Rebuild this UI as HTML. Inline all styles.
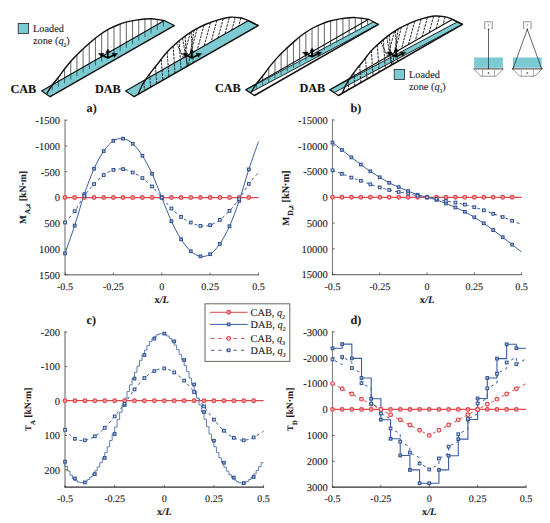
<!DOCTYPE html>
<html><head><meta charset="utf-8"><style>
html,body{margin:0;padding:0;background:#fff;}
body{width:550px;height:523px;overflow:hidden;font-family:"Liberation Serif",serif;}
svg{display:block;}
svg text{text-rendering:geometricPrecision;stroke:#1a1a1a;stroke-width:0.1px;}
</style></head><body>
<svg width="550" height="523" viewBox="0 0 550 523">
<rect width="550" height="523" fill="#fff"/>
<polygon points="41.6,91 164.4,20.5 174.2,25.6 50.2,96.7" fill="#7ccbd3" stroke="none" stroke-width="0" stroke-linejoin="round" />
<line x1="52.2" y1="85.04" x2="52.2" y2="90.23" stroke="#356a70" stroke-width="1.05" />
<line x1="58.38" y1="77.32" x2="58.38" y2="81.37" stroke="#727272" stroke-width="1.1" />
<line x1="58.38" y1="81.37" x2="58.38" y2="86.69" stroke="#356a70" stroke-width="1.05" />
<line x1="64.56" y1="68.98" x2="64.56" y2="77.82" stroke="#727272" stroke-width="1.1" />
<line x1="64.56" y1="77.82" x2="64.56" y2="83.14" stroke="#356a70" stroke-width="1.05" />
<line x1="70.74" y1="61.44" x2="70.74" y2="74.27" stroke="#727272" stroke-width="1.1" />
<line x1="70.74" y1="74.27" x2="70.74" y2="79.6" stroke="#356a70" stroke-width="1.05" />
<line x1="76.92" y1="54.88" x2="76.92" y2="70.72" stroke="#727272" stroke-width="1.1" />
<line x1="76.92" y1="70.72" x2="76.92" y2="76.05" stroke="#356a70" stroke-width="1.05" />
<line x1="83.1" y1="48.89" x2="83.1" y2="67.17" stroke="#727272" stroke-width="1.1" />
<line x1="83.1" y1="67.17" x2="83.1" y2="72.51" stroke="#356a70" stroke-width="1.05" />
<line x1="89.28" y1="43.35" x2="89.28" y2="63.63" stroke="#727272" stroke-width="1.1" />
<line x1="89.28" y1="63.63" x2="89.28" y2="68.96" stroke="#356a70" stroke-width="1.05" />
<line x1="95.46" y1="38.12" x2="95.46" y2="60.08" stroke="#727272" stroke-width="1.1" />
<line x1="95.46" y1="60.08" x2="95.46" y2="65.41" stroke="#356a70" stroke-width="1.05" />
<line x1="101.64" y1="33.49" x2="101.64" y2="56.53" stroke="#727272" stroke-width="1.1" />
<line x1="101.64" y1="56.53" x2="101.64" y2="61.87" stroke="#356a70" stroke-width="1.05" />
<line x1="107.82" y1="29.63" x2="107.82" y2="52.98" stroke="#727272" stroke-width="1.1" />
<line x1="107.82" y1="52.98" x2="107.82" y2="58.32" stroke="#356a70" stroke-width="1.05" />
<line x1="114" y1="26.55" x2="114" y2="49.43" stroke="#727272" stroke-width="1.1" />
<line x1="114" y1="49.43" x2="114" y2="54.78" stroke="#356a70" stroke-width="1.05" />
<line x1="120.18" y1="24.04" x2="120.18" y2="45.89" stroke="#727272" stroke-width="1.1" />
<line x1="120.18" y1="45.89" x2="120.18" y2="51.23" stroke="#356a70" stroke-width="1.05" />
<line x1="126.36" y1="22.02" x2="126.36" y2="42.34" stroke="#727272" stroke-width="1.1" />
<line x1="126.36" y1="42.34" x2="126.36" y2="47.68" stroke="#356a70" stroke-width="1.05" />
<line x1="132.54" y1="20.66" x2="132.54" y2="38.79" stroke="#727272" stroke-width="1.1" />
<line x1="132.54" y1="38.79" x2="132.54" y2="44.14" stroke="#356a70" stroke-width="1.05" />
<line x1="138.72" y1="19.69" x2="138.72" y2="35.24" stroke="#727272" stroke-width="1.1" />
<line x1="138.72" y1="35.24" x2="138.72" y2="40.59" stroke="#356a70" stroke-width="1.05" />
<line x1="144.9" y1="19.01" x2="144.9" y2="31.7" stroke="#727272" stroke-width="1.1" />
<line x1="144.9" y1="31.7" x2="144.9" y2="37.05" stroke="#356a70" stroke-width="1.05" />
<line x1="151.08" y1="18.78" x2="151.08" y2="28.15" stroke="#727272" stroke-width="1.1" />
<line x1="151.08" y1="28.15" x2="151.08" y2="33.5" stroke="#356a70" stroke-width="1.05" />
<line x1="157.26" y1="19.47" x2="157.26" y2="24.6" stroke="#727272" stroke-width="1.1" />
<line x1="157.26" y1="24.6" x2="157.26" y2="29.96" stroke="#356a70" stroke-width="1.05" />
<line x1="163.44" y1="20.44" x2="163.44" y2="21.05" stroke="#727272" stroke-width="1.1" />
<line x1="163.44" y1="21.05" x2="163.44" y2="26.41" stroke="#356a70" stroke-width="1.05" />
<path d="M50.2,96.7 L41.6,91 L164.4,20.5 L174.2,25.6" fill="none" stroke="#111" stroke-width="1.15" stroke-linejoin="round"/>
<path d="M174.2,25.6 L50.2,96.7" fill="none" stroke="#111" stroke-width="1.5" stroke-linecap="round"/>
<path d="M46.9,93.6 C47.67,92.33 49.47,88.87 51.5,86 C53.53,83.13 56.9,79.27 59.1,76.4 C61.3,73.53 62.52,71.57 64.7,68.8 C66.88,66.03 69.42,62.85 72.2,59.8 C74.98,56.75 78.35,53.42 81.4,50.5 C84.45,47.58 87.48,44.88 90.5,42.3 C93.52,39.72 96.48,37.18 99.5,35 C102.52,32.82 105.57,30.87 108.6,29.2 C111.63,27.53 114.67,26.22 117.7,25 C120.73,23.78 123.77,22.72 126.8,21.9 C129.83,21.08 132.87,20.58 135.9,20.1 C138.93,19.62 142.4,19.22 145,19 C147.6,18.78 149.3,18.7 151.5,18.8 C153.7,18.9 156.05,19.3 158.2,19.6 C160.35,19.9 163.37,20.43 164.4,20.6" fill="none" stroke="#111" stroke-width="1.4" stroke-linejoin="round"/>
<g stroke="#000" stroke-width="1.6" fill="#000" stroke-linejoin="round" stroke-linecap="round">
<path d="M101.6,54.73 L107.8,57.93 L114.4,54.73 M107.8,57.93 L107.8,52.33" fill="none"/>
<path d="M107.8,49.33 l-1.9,3.2 l3.8,0 z" stroke-width="0.5"/>
<path d="M98.8,53.53 l5.0,-0.3 l-2.1,3.9 z" stroke-width="0.5"/>
<path d="M117.2,53.53 l-5.0,-0.3 l2.1,3.9 z" stroke-width="0.5"/>
</g>
<text x="99.6" y="51.73" font-family="'Liberation Serif', serif" font-size="3.8" font-style="italic" fill="#999" style="stroke:none">y</text>
<text x="110.2" y="47.73" font-family="'Liberation Serif', serif" font-size="3.8" font-style="italic" fill="#999" style="stroke:none">z</text>
<text x="117" y="53.13" font-family="'Liberation Serif', serif" font-size="3.8" font-style="italic" fill="#999" style="stroke:none">x</text>
<polygon points="125.6,91 248.4,20.5 258.2,25.6 134.2,96.7" fill="#7ccbd3" stroke="none" stroke-width="0" stroke-linejoin="round" />
<line x1="143.9" y1="82.23" x2="144.5" y2="90.79" stroke="#1e1e1e" stroke-width="0.95" stroke-dasharray="2.6,1.0"/>
<line x1="149.66" y1="73.9" x2="150.6" y2="87.3" stroke="#1e1e1e" stroke-width="0.95" stroke-dasharray="2.6,1.0"/>
<line x1="155.49" y1="66.56" x2="156.7" y2="83.8" stroke="#1e1e1e" stroke-width="0.95" stroke-dasharray="2.6,1.0"/>
<line x1="161.31" y1="59.08" x2="162.8" y2="80.3" stroke="#1e1e1e" stroke-width="0.95" stroke-dasharray="2.6,1.0"/>
<line x1="167.16" y1="51.9" x2="168.9" y2="76.8" stroke="#1e1e1e" stroke-width="0.95" stroke-dasharray="2.6,1.0"/>
<line x1="173.1" y1="46.09" x2="175" y2="73.31" stroke="#1e1e1e" stroke-width="0.95" stroke-dasharray="2.6,1.0"/>
<line x1="179.07" y1="40.8" x2="181.1" y2="69.81" stroke="#1e1e1e" stroke-width="0.95" stroke-dasharray="2.6,1.0"/>
<line x1="185.09" y1="36.1" x2="187.2" y2="66.31" stroke="#1e1e1e" stroke-width="0.95" stroke-dasharray="2.6,1.0"/>
<line x1="191.14" y1="31.93" x2="193.3" y2="62.81" stroke="#1e1e1e" stroke-width="0.95" stroke-dasharray="2.6,1.0"/>
<line x1="190.33" y1="32.45" x2="183.5" y2="57.76" stroke="#1e1e1e" stroke-width="0.95" stroke-dasharray="2.6,1.0"/>
<line x1="197.28" y1="28.32" x2="190.4" y2="53.8" stroke="#1e1e1e" stroke-width="0.95" stroke-dasharray="2.6,1.0"/>
<line x1="203.99" y1="25.05" x2="197.3" y2="49.84" stroke="#1e1e1e" stroke-width="0.95" stroke-dasharray="2.6,1.0"/>
<line x1="210.55" y1="22.36" x2="204.2" y2="45.88" stroke="#1e1e1e" stroke-width="0.95" stroke-dasharray="2.6,1.0"/>
<line x1="216.96" y1="20.23" x2="211.1" y2="41.91" stroke="#1e1e1e" stroke-width="0.95" stroke-dasharray="2.6,1.0"/>
<line x1="223.25" y1="18.49" x2="218" y2="37.95" stroke="#1e1e1e" stroke-width="0.95" stroke-dasharray="2.6,1.0"/>
<line x1="229.4" y1="17.31" x2="224.9" y2="33.99" stroke="#1e1e1e" stroke-width="0.95" stroke-dasharray="2.6,1.0"/>
<line x1="235.26" y1="17.22" x2="231.8" y2="30.03" stroke="#1e1e1e" stroke-width="0.95" stroke-dasharray="2.6,1.0"/>
<line x1="240.89" y1="17.95" x2="238.7" y2="26.07" stroke="#1e1e1e" stroke-width="0.95" stroke-dasharray="2.6,1.0"/>
<line x1="182.5" y1="38.04" x2="187.5" y2="66.14" stroke="#1e1e1e" stroke-width="0.95" stroke-dasharray="2.6,1.0"/>
<line x1="194" y1="30.16" x2="188.5" y2="65.57" stroke="#1e1e1e" stroke-width="0.95" stroke-dasharray="2.6,1.0"/>
<line x1="176.5" y1="43.01" x2="183.5" y2="57.76" stroke="#1e1e1e" stroke-width="0.95" stroke-dasharray="2.6,1.0"/>
<path d="M134.2,96.7 L125.6,91 L248.4,20.5 L258.2,25.6" fill="none" stroke="#111" stroke-width="1.15" stroke-linejoin="round"/>
<path d="M258.2,25.6 L134.2,96.7" fill="none" stroke="#111" stroke-width="1.5" stroke-linecap="round"/>
<path d="M138,94.5 C138.58,93.17 140.37,88.78 141.5,86.5 C142.63,84.22 143.65,82.62 144.8,80.8 C145.95,78.98 147.03,77.47 148.4,75.6 C149.77,73.73 151.33,71.7 153,69.6 C154.67,67.5 156.73,65.12 158.4,63 C160.07,60.88 161.23,59.07 163,56.9 C164.77,54.73 166.02,52.93 169,50 C171.98,47.07 176.8,42.57 180.9,39.3 C185,36.03 189.35,32.95 193.6,30.4 C197.85,27.85 202.15,25.8 206.4,24 C210.65,22.2 215.08,20.73 219.1,19.6 C223.12,18.47 227.02,17.5 230.5,17.2 C233.98,16.9 237.5,17.43 240,17.8 C242.5,18.17 244.07,18.88 245.5,19.4 C246.93,19.92 248.08,20.65 248.6,20.9 L258.2,25.6" fill="none" stroke="#111" stroke-width="1.4" stroke-linejoin="round"/>
<g stroke="#000" stroke-width="1.6" fill="#000" stroke-linejoin="round" stroke-linecap="round">
<path d="M185.6,54.73 L191.8,57.93 L198.4,54.73 M191.8,57.93 L191.8,52.33" fill="none"/>
<path d="M191.8,49.33 l-1.9,3.2 l3.8,0 z" stroke-width="0.5"/>
<path d="M182.8,53.53 l5.0,-0.3 l-2.1,3.9 z" stroke-width="0.5"/>
<path d="M201.2,53.53 l-5.0,-0.3 l2.1,3.9 z" stroke-width="0.5"/>
</g>
<text x="183.6" y="51.73" font-family="'Liberation Serif', serif" font-size="3.8" font-style="italic" fill="#999" style="stroke:none">y</text>
<text x="194.2" y="47.73" font-family="'Liberation Serif', serif" font-size="3.8" font-style="italic" fill="#999" style="stroke:none">z</text>
<text x="201" y="53.13" font-family="'Liberation Serif', serif" font-size="3.8" font-style="italic" fill="#999" style="stroke:none">x</text>
<polygon points="245.8,89.8 368.6,19.3 378.4,24.4 254.4,95.5" fill="#fff" stroke="none" stroke-width="0" stroke-linejoin="round" />
<polygon points="245.8,89.8 373.5,21.85 378.4,24.4 250.1,92.65" fill="#7ccbd3" stroke="#111" stroke-width="0.9" stroke-linejoin="round"/>
<line x1="256.4" y1="83.84" x2="256.4" y2="89.03" stroke="#356a70" stroke-width="1.05" />
<line x1="262.58" y1="76.12" x2="262.58" y2="80.17" stroke="#727272" stroke-width="1.1" />
<line x1="262.58" y1="80.17" x2="262.58" y2="85.49" stroke="#356a70" stroke-width="1.05" />
<line x1="268.76" y1="67.78" x2="268.76" y2="76.62" stroke="#727272" stroke-width="1.1" />
<line x1="268.76" y1="76.62" x2="268.76" y2="81.94" stroke="#356a70" stroke-width="1.05" />
<line x1="274.94" y1="60.24" x2="274.94" y2="73.07" stroke="#727272" stroke-width="1.1" />
<line x1="274.94" y1="73.07" x2="274.94" y2="78.4" stroke="#356a70" stroke-width="1.05" />
<line x1="281.12" y1="53.68" x2="281.12" y2="69.52" stroke="#727272" stroke-width="1.1" />
<line x1="281.12" y1="69.52" x2="281.12" y2="74.85" stroke="#356a70" stroke-width="1.05" />
<line x1="287.3" y1="47.69" x2="287.3" y2="65.97" stroke="#727272" stroke-width="1.1" />
<line x1="287.3" y1="65.97" x2="287.3" y2="71.31" stroke="#356a70" stroke-width="1.05" />
<line x1="293.48" y1="42.15" x2="293.48" y2="62.43" stroke="#727272" stroke-width="1.1" />
<line x1="293.48" y1="62.43" x2="293.48" y2="67.76" stroke="#356a70" stroke-width="1.05" />
<line x1="299.66" y1="36.92" x2="299.66" y2="58.88" stroke="#727272" stroke-width="1.1" />
<line x1="299.66" y1="58.88" x2="299.66" y2="64.21" stroke="#356a70" stroke-width="1.05" />
<line x1="305.84" y1="32.29" x2="305.84" y2="55.33" stroke="#727272" stroke-width="1.1" />
<line x1="305.84" y1="55.33" x2="305.84" y2="60.67" stroke="#356a70" stroke-width="1.05" />
<line x1="312.02" y1="28.43" x2="312.02" y2="51.78" stroke="#727272" stroke-width="1.1" />
<line x1="312.02" y1="51.78" x2="312.02" y2="57.12" stroke="#356a70" stroke-width="1.05" />
<line x1="318.2" y1="25.35" x2="318.2" y2="48.23" stroke="#727272" stroke-width="1.1" />
<line x1="318.2" y1="48.23" x2="318.2" y2="53.58" stroke="#356a70" stroke-width="1.05" />
<line x1="324.38" y1="22.84" x2="324.38" y2="44.69" stroke="#727272" stroke-width="1.1" />
<line x1="324.38" y1="44.69" x2="324.38" y2="50.03" stroke="#356a70" stroke-width="1.05" />
<line x1="330.56" y1="20.82" x2="330.56" y2="41.14" stroke="#727272" stroke-width="1.1" />
<line x1="330.56" y1="41.14" x2="330.56" y2="46.48" stroke="#356a70" stroke-width="1.05" />
<line x1="336.74" y1="19.46" x2="336.74" y2="37.59" stroke="#727272" stroke-width="1.1" />
<line x1="336.74" y1="37.59" x2="336.74" y2="42.94" stroke="#356a70" stroke-width="1.05" />
<line x1="342.92" y1="18.49" x2="342.92" y2="34.04" stroke="#727272" stroke-width="1.1" />
<line x1="342.92" y1="34.04" x2="342.92" y2="39.39" stroke="#356a70" stroke-width="1.05" />
<line x1="349.1" y1="17.81" x2="349.1" y2="30.5" stroke="#727272" stroke-width="1.1" />
<line x1="349.1" y1="30.5" x2="349.1" y2="35.85" stroke="#356a70" stroke-width="1.05" />
<line x1="355.28" y1="17.58" x2="355.28" y2="26.95" stroke="#727272" stroke-width="1.1" />
<line x1="355.28" y1="26.95" x2="355.28" y2="32.3" stroke="#356a70" stroke-width="1.05" />
<line x1="361.46" y1="18.27" x2="361.46" y2="23.4" stroke="#727272" stroke-width="1.1" />
<line x1="361.46" y1="23.4" x2="361.46" y2="28.76" stroke="#356a70" stroke-width="1.05" />
<line x1="367.64" y1="19.24" x2="367.64" y2="19.85" stroke="#727272" stroke-width="1.1" />
<line x1="367.64" y1="19.85" x2="367.64" y2="25.21" stroke="#356a70" stroke-width="1.05" />
<path d="M254.4,95.5 L245.8,89.8 L368.6,19.3 L378.4,24.4" fill="none" stroke="#111" stroke-width="1.15" stroke-linejoin="round"/>
<path d="M378.4,24.4 L254.4,95.5" fill="none" stroke="#111" stroke-width="1.5" stroke-linecap="round"/>
<path d="M251.1,92.4 C251.87,91.13 253.67,87.67 255.7,84.8 C257.73,81.93 261.1,78.07 263.3,75.2 C265.5,72.33 266.72,70.37 268.9,67.6 C271.08,64.83 273.62,61.65 276.4,58.6 C279.18,55.55 282.55,52.22 285.6,49.3 C288.65,46.38 291.68,43.68 294.7,41.1 C297.72,38.52 300.68,35.98 303.7,33.8 C306.72,31.62 309.77,29.67 312.8,28 C315.83,26.33 318.87,25.02 321.9,23.8 C324.93,22.58 327.97,21.52 331,20.7 C334.03,19.88 337.07,19.38 340.1,18.9 C343.13,18.42 346.6,18.02 349.2,17.8 C351.8,17.58 353.5,17.5 355.7,17.6 C357.9,17.7 360.25,18.1 362.4,18.4 C364.55,18.7 367.57,19.23 368.6,19.4" fill="none" stroke="#111" stroke-width="1.4" stroke-linejoin="round"/>
<g stroke="#000" stroke-width="1.6" fill="#000" stroke-linejoin="round" stroke-linecap="round">
<path d="M305.8,53.53 L312,56.73 L318.6,53.53 M312,56.73 L312,51.13" fill="none"/>
<path d="M312,48.13 l-1.9,3.2 l3.8,0 z" stroke-width="0.5"/>
<path d="M303,52.33 l5.0,-0.3 l-2.1,3.9 z" stroke-width="0.5"/>
<path d="M321.4,52.33 l-5.0,-0.3 l2.1,3.9 z" stroke-width="0.5"/>
</g>
<text x="303.8" y="50.53" font-family="'Liberation Serif', serif" font-size="3.8" font-style="italic" fill="#999" style="stroke:none">y</text>
<text x="314.4" y="46.53" font-family="'Liberation Serif', serif" font-size="3.8" font-style="italic" fill="#999" style="stroke:none">z</text>
<text x="321.2" y="51.93" font-family="'Liberation Serif', serif" font-size="3.8" font-style="italic" fill="#999" style="stroke:none">x</text>
<polygon points="329.8,89.8 452.6,19.3 462.4,24.4 338.4,95.5" fill="#fff" stroke="none" stroke-width="0" stroke-linejoin="round" />
<polygon points="329.8,89.8 457.5,21.85 462.4,24.4 334.1,92.65" fill="#7ccbd3" stroke="#111" stroke-width="0.9" stroke-linejoin="round"/>
<line x1="348.1" y1="81.03" x2="348.7" y2="89.59" stroke="#1e1e1e" stroke-width="0.95" stroke-dasharray="2.6,1.0"/>
<line x1="353.86" y1="72.7" x2="354.8" y2="86.1" stroke="#1e1e1e" stroke-width="0.95" stroke-dasharray="2.6,1.0"/>
<line x1="359.69" y1="65.36" x2="360.9" y2="82.6" stroke="#1e1e1e" stroke-width="0.95" stroke-dasharray="2.6,1.0"/>
<line x1="365.51" y1="57.88" x2="367" y2="79.1" stroke="#1e1e1e" stroke-width="0.95" stroke-dasharray="2.6,1.0"/>
<line x1="371.36" y1="50.7" x2="373.1" y2="75.6" stroke="#1e1e1e" stroke-width="0.95" stroke-dasharray="2.6,1.0"/>
<line x1="377.3" y1="44.89" x2="379.2" y2="72.11" stroke="#1e1e1e" stroke-width="0.95" stroke-dasharray="2.6,1.0"/>
<line x1="383.27" y1="39.6" x2="385.3" y2="68.61" stroke="#1e1e1e" stroke-width="0.95" stroke-dasharray="2.6,1.0"/>
<line x1="389.29" y1="34.9" x2="391.4" y2="65.11" stroke="#1e1e1e" stroke-width="0.95" stroke-dasharray="2.6,1.0"/>
<line x1="395.34" y1="30.73" x2="397.5" y2="61.61" stroke="#1e1e1e" stroke-width="0.95" stroke-dasharray="2.6,1.0"/>
<line x1="394.53" y1="31.25" x2="387.7" y2="56.56" stroke="#1e1e1e" stroke-width="0.95" stroke-dasharray="2.6,1.0"/>
<line x1="401.48" y1="27.12" x2="394.6" y2="52.6" stroke="#1e1e1e" stroke-width="0.95" stroke-dasharray="2.6,1.0"/>
<line x1="408.19" y1="23.85" x2="401.5" y2="48.64" stroke="#1e1e1e" stroke-width="0.95" stroke-dasharray="2.6,1.0"/>
<line x1="414.75" y1="21.16" x2="408.4" y2="44.68" stroke="#1e1e1e" stroke-width="0.95" stroke-dasharray="2.6,1.0"/>
<line x1="421.16" y1="19.03" x2="415.3" y2="40.71" stroke="#1e1e1e" stroke-width="0.95" stroke-dasharray="2.6,1.0"/>
<line x1="427.45" y1="17.29" x2="422.2" y2="36.75" stroke="#1e1e1e" stroke-width="0.95" stroke-dasharray="2.6,1.0"/>
<line x1="433.6" y1="16.11" x2="429.1" y2="32.79" stroke="#1e1e1e" stroke-width="0.95" stroke-dasharray="2.6,1.0"/>
<line x1="439.46" y1="16.02" x2="436" y2="28.83" stroke="#1e1e1e" stroke-width="0.95" stroke-dasharray="2.6,1.0"/>
<line x1="445.09" y1="16.75" x2="442.9" y2="24.87" stroke="#1e1e1e" stroke-width="0.95" stroke-dasharray="2.6,1.0"/>
<line x1="386.7" y1="36.84" x2="391.7" y2="64.94" stroke="#1e1e1e" stroke-width="0.95" stroke-dasharray="2.6,1.0"/>
<line x1="398.2" y1="28.96" x2="392.7" y2="64.37" stroke="#1e1e1e" stroke-width="0.95" stroke-dasharray="2.6,1.0"/>
<line x1="380.7" y1="41.81" x2="387.7" y2="56.56" stroke="#1e1e1e" stroke-width="0.95" stroke-dasharray="2.6,1.0"/>
<path d="M338.4,95.5 L329.8,89.8 L452.6,19.3 L462.4,24.4" fill="none" stroke="#111" stroke-width="1.15" stroke-linejoin="round"/>
<path d="M462.4,24.4 L338.4,95.5" fill="none" stroke="#111" stroke-width="1.5" stroke-linecap="round"/>
<path d="M342.2,93.3 C342.78,91.97 344.57,87.58 345.7,85.3 C346.83,83.02 347.85,81.42 349,79.6 C350.15,77.78 351.23,76.27 352.6,74.4 C353.97,72.53 355.53,70.5 357.2,68.4 C358.87,66.3 360.93,63.92 362.6,61.8 C364.27,59.68 365.43,57.87 367.2,55.7 C368.97,53.53 370.22,51.73 373.2,48.8 C376.18,45.87 381,41.37 385.1,38.1 C389.2,34.83 393.55,31.75 397.8,29.2 C402.05,26.65 406.35,24.6 410.6,22.8 C414.85,21 419.28,19.53 423.3,18.4 C427.32,17.27 431.22,16.3 434.7,16 C438.18,15.7 441.7,16.23 444.2,16.6 C446.7,16.97 448.27,17.68 449.7,18.2 C451.13,18.72 452.28,19.45 452.8,19.7 L462.4,24.4" fill="none" stroke="#111" stroke-width="1.4" stroke-linejoin="round"/>
<g stroke="#000" stroke-width="1.6" fill="#000" stroke-linejoin="round" stroke-linecap="round">
<path d="M389.8,53.53 L396,56.73 L402.6,53.53 M396,56.73 L396,51.13" fill="none"/>
<path d="M396,48.13 l-1.9,3.2 l3.8,0 z" stroke-width="0.5"/>
<path d="M387,52.33 l5.0,-0.3 l-2.1,3.9 z" stroke-width="0.5"/>
<path d="M405.4,52.33 l-5.0,-0.3 l2.1,3.9 z" stroke-width="0.5"/>
</g>
<text x="387.8" y="50.53" font-family="'Liberation Serif', serif" font-size="3.8" font-style="italic" fill="#999" style="stroke:none">y</text>
<text x="398.4" y="46.53" font-family="'Liberation Serif', serif" font-size="3.8" font-style="italic" fill="#999" style="stroke:none">z</text>
<text x="405.2" y="51.93" font-family="'Liberation Serif', serif" font-size="3.8" font-style="italic" fill="#999" style="stroke:none">x</text>
<rect x="18.2" y="23.4" width="10.4" height="10" fill="#7ccbd3" stroke="#222" stroke-width="0.8"/>
<text x="33.0" y="32.0" font-family="'Liberation Serif', serif" font-size="10.3" fill="#1a1a1a">Loaded</text>
<text x="33.0" y="44.4" font-family="'Liberation Serif', serif" font-size="10.3" fill="#1a1a1a">zone (<tspan font-style="italic">q</tspan><tspan font-size="5.5" dy="2.4">2</tspan><tspan dy="-2.4">)</tspan></text>
<rect x="394.2" y="69.4" width="10.4" height="10" fill="#7ccbd3" stroke="#222" stroke-width="0.8"/>
<text x="409.0" y="78.0" font-family="'Liberation Serif', serif" font-size="10.3" fill="#1a1a1a">Loaded</text>
<text x="409.0" y="90.4" font-family="'Liberation Serif', serif" font-size="10.3" fill="#1a1a1a">zone (<tspan font-style="italic">q</tspan><tspan font-size="5.5" dy="2.4">3</tspan><tspan dy="-2.4">)</tspan></text>
<text x="10.5" y="92.6" font-family="'Liberation Serif', serif" font-size="12.2" font-weight="bold" fill="#111">CAB</text>
<text x="94.9" y="92.6" font-family="'Liberation Serif', serif" font-size="12.2" font-weight="bold" fill="#111">DAB</text>
<text x="215.0" y="91.7" font-family="'Liberation Serif', serif" font-size="12.2" font-weight="bold" fill="#111">CAB</text>
<text x="299.5" y="92.0" font-family="'Liberation Serif', serif" font-size="12.2" font-weight="bold" fill="#111">DAB</text>
<path d="M484.7,28.8 L484.7,21.8 L492.3,21.8 L492.3,28.8" fill="none" stroke="#7a7a7a" stroke-width="0.8"/>
<path d="M484.7,28.6 h1.2 M492.3,28.6 h-1.2" stroke="#7a7a7a" stroke-width="0.6"/>
<line x1="488.5" y1="24" x2="488.5" y2="26.2" stroke="#777" stroke-width="0.6"/>
<rect x="474.1" y="57.5" width="28.8" height="10.3" fill="#7ccbd3"/>
<line x1="488.5" y1="29" x2="488.5" y2="68.5" stroke="#222" stroke-width="0.7"/>
<circle cx="488.5" cy="29.2" r="0.8" fill="#333"/>
<circle cx="488.5" cy="68.6" r="0.9" fill="#222"/>
<path d="M503.3,69 L496.1,76.2 L480.9,76.2 L473.7,69" fill="#fff" stroke="#7a7a7a" stroke-width="0.8"/>
<line x1="473.6" y1="68.9" x2="503.4" y2="68.9" stroke="#4a4a4a" stroke-width="1.1"/>
<path d="M482.5,69.4 V76.2 M494.5,69.4 V76.2" fill="none" stroke="#7a7a7a" stroke-width="0.6"/>
<path d="M487.4,73 h2.2 M488.5,71.9 v2.2" stroke="#444" stroke-width="0.6"/>
<path d="M523.5,28.8 L523.5,21.8 L531.1,21.8 L531.1,28.8" fill="none" stroke="#7a7a7a" stroke-width="0.8"/>
<path d="M523.5,28.6 h1.2 M531.1,28.6 h-1.2" stroke="#7a7a7a" stroke-width="0.6"/>
<line x1="527.3" y1="24" x2="527.3" y2="26.2" stroke="#777" stroke-width="0.6"/>
<rect x="512.9" y="57.5" width="28.8" height="10.3" fill="#7ccbd3"/>
<path d="M513.1,68.4 L527.3,29.4 L541.5,68.4" fill="none" stroke="#222" stroke-width="0.7"/>
<circle cx="527.3" cy="29.4" r="0.8" fill="#333"/>
<circle cx="513.1" cy="68.6" r="0.9" fill="#222"/>
<circle cx="541.5" cy="68.6" r="0.9" fill="#222"/>
<path d="M542.1,69 L534.9,76.2 L519.7,76.2 L512.5,69" fill="#fff" stroke="#7a7a7a" stroke-width="0.8"/>
<line x1="512.4" y1="68.9" x2="542.2" y2="68.9" stroke="#4a4a4a" stroke-width="1.1"/>
<path d="M521.3,69.4 V76.2 M533.3,69.4 V76.2" fill="none" stroke="#7a7a7a" stroke-width="0.6"/>
<path d="M526.2,73 h2.2 M527.3,71.9 v2.2" stroke="#444" stroke-width="0.6"/>
<line x1="65" y1="119.4" x2="65" y2="274.8" stroke="#8c8c8c" stroke-width="1.3"/>
<line x1="64.5" y1="274.8" x2="258.9" y2="274.8" stroke="#8c8c8c" stroke-width="1.6"/>
<line x1="65" y1="120.2" x2="67.2" y2="120.2" stroke="#444" stroke-width="0.8"/>
<line x1="65" y1="145.97" x2="67.2" y2="145.97" stroke="#444" stroke-width="0.8"/>
<line x1="65" y1="171.73" x2="67.2" y2="171.73" stroke="#444" stroke-width="0.8"/>
<line x1="65" y1="197.5" x2="67.2" y2="197.5" stroke="#444" stroke-width="0.8"/>
<line x1="65" y1="223.27" x2="67.2" y2="223.27" stroke="#444" stroke-width="0.8"/>
<line x1="65" y1="249.03" x2="67.2" y2="249.03" stroke="#444" stroke-width="0.8"/>
<line x1="65" y1="274.8" x2="67.2" y2="274.8" stroke="#444" stroke-width="0.8"/>
<line x1="65" y1="274.8" x2="65" y2="272.6" stroke="#444" stroke-width="0.8"/>
<line x1="113.38" y1="274.8" x2="113.38" y2="272.6" stroke="#444" stroke-width="0.8"/>
<line x1="161.75" y1="274.8" x2="161.75" y2="272.6" stroke="#444" stroke-width="0.8"/>
<line x1="210.12" y1="274.8" x2="210.12" y2="272.6" stroke="#444" stroke-width="0.8"/>
<line x1="258.5" y1="274.8" x2="258.5" y2="272.6" stroke="#444" stroke-width="0.8"/>
<text x="59.9" y="124" font-family="'Liberation Serif', serif" font-size="10.5" fill="#1a1a1a" text-anchor="end">-1500</text>
<text x="59.9" y="149.77" font-family="'Liberation Serif', serif" font-size="10.5" fill="#1a1a1a" text-anchor="end">-1000</text>
<text x="59.9" y="175.53" font-family="'Liberation Serif', serif" font-size="10.5" fill="#1a1a1a" text-anchor="end">-500</text>
<text x="59.9" y="201.3" font-family="'Liberation Serif', serif" font-size="10.5" fill="#1a1a1a" text-anchor="end">0</text>
<text x="59.9" y="227.07" font-family="'Liberation Serif', serif" font-size="10.5" fill="#1a1a1a" text-anchor="end">500</text>
<text x="59.9" y="252.83" font-family="'Liberation Serif', serif" font-size="10.5" fill="#1a1a1a" text-anchor="end">1000</text>
<text x="59.9" y="278.6" font-family="'Liberation Serif', serif" font-size="10.5" fill="#1a1a1a" text-anchor="end">1500</text>
<text x="65" y="290" font-family="'Liberation Serif', serif" font-size="10.1" fill="#1a1a1a" text-anchor="middle">-0.5</text>
<text x="113.38" y="290" font-family="'Liberation Serif', serif" font-size="10.1" fill="#1a1a1a" text-anchor="middle">-0.25</text>
<text x="161.75" y="290" font-family="'Liberation Serif', serif" font-size="10.1" fill="#1a1a1a" text-anchor="middle">0</text>
<text x="210.12" y="290" font-family="'Liberation Serif', serif" font-size="10.1" fill="#1a1a1a" text-anchor="middle">0.25</text>
<text x="258.5" y="290" font-family="'Liberation Serif', serif" font-size="10.1" fill="#1a1a1a" text-anchor="middle">0.5</text>
<text x="161.75" y="302.8" font-family="'Liberation Serif', serif" font-size="10.4" font-weight="bold" fill="#1a1a1a" text-anchor="middle">x<tspan font-style="italic">/L</tspan></text>
<text transform="translate(26.4,224) rotate(-90)" font-family="'Liberation Serif', serif" font-size="9.4" font-weight="bold" fill="#1a1a1a">M<tspan font-size="7.6" dx="1.0" dy="3.6">A,<tspan font-style="italic">z</tspan></tspan><tspan font-size="9.8" dy="-3.6"> [kN·m]</tspan></text>
<text x="86.6" y="112.1" font-family="'Liberation Serif', serif" font-size="12.2" font-weight="bold" fill="#1a1a1a">a)</text>
<line x1="65" y1="197.5" x2="258.5" y2="197.5" stroke="#e0474c" stroke-width="1.25"/>
<path d="M65,253.41 C66.61,248.78 71.45,235.46 74.67,225.59 C77.9,215.71 81.12,203.62 84.35,194.15 C87.57,184.68 90.8,175.92 94.03,168.74 C97.25,161.57 100.48,155.78 103.7,151.12 C106.92,146.46 110.15,142.89 113.38,140.81 C116.6,138.73 119.83,138.16 123.05,138.65 C126.28,139.14 129.5,140.9 132.73,143.75 C135.95,146.6 139.18,150.75 142.4,155.76 C145.62,160.77 148.85,166.84 152.07,173.79 C155.3,180.75 158.53,189.6 161.75,197.5 C164.97,205.4 168.2,214.25 171.43,221.21 C174.65,228.16 177.88,234.23 181.1,239.24 C184.33,244.25 187.55,248.4 190.78,251.25 C194,254.1 197.23,255.86 200.45,256.35 C203.68,256.84 206.9,256.27 210.12,254.19 C213.35,252.11 216.58,248.54 219.8,243.88 C223.03,239.22 226.25,233.43 229.48,226.26 C232.7,219.08 235.93,210.32 239.15,200.85 C242.38,191.38 245.6,179.29 248.83,169.41 C252.05,159.54 256.89,146.22 258.5,141.59" fill="none" stroke="#3b5ca6" stroke-width="1"/>
<path d="M65,222.49 C66.61,220.6 71.45,215.53 74.67,211.1 C77.9,206.68 81.12,200.45 84.35,195.95 C87.57,191.45 90.8,187.58 94.03,184.1 C97.25,180.62 100.48,177.45 103.7,175.08 C106.92,172.71 110.15,170.87 113.38,169.88 C116.6,168.88 119.83,168.67 123.05,169.11 C126.28,169.54 129.5,171.01 132.73,172.51 C135.95,174 139.18,175.74 142.4,178.07 C145.62,180.4 148.85,183.23 152.07,186.47 C155.3,189.71 158.53,193.82 161.75,197.5 C164.97,201.18 168.2,205.29 171.43,208.53 C174.65,211.77 177.88,214.6 181.1,216.93 C184.33,219.26 187.55,221 190.78,222.49 C194,223.99 197.23,225.46 200.45,225.89 C203.68,226.33 206.9,226.12 210.12,225.12 C213.35,224.13 216.58,222.29 219.8,219.92 C223.03,217.55 226.25,214.38 229.48,210.9 C232.7,207.42 235.93,203.55 239.15,199.05 C242.38,194.55 245.6,188.32 248.83,183.9 C252.05,179.47 256.89,174.4 258.5,172.51" fill="none" stroke="#3b5ca6" stroke-width="1" stroke-dasharray="3,3"/>
<circle cx="65" cy="197.5" r="1.85" fill="#f0a4a4" stroke="#e0474c" stroke-width="1.2"/>
<circle cx="74.67" cy="197.5" r="1.85" fill="#f0a4a4" stroke="#e0474c" stroke-width="1.2"/>
<circle cx="84.35" cy="197.5" r="1.85" fill="#f0a4a4" stroke="#e0474c" stroke-width="1.2"/>
<circle cx="94.03" cy="197.5" r="1.85" fill="#f0a4a4" stroke="#e0474c" stroke-width="1.2"/>
<circle cx="103.7" cy="197.5" r="1.85" fill="#f0a4a4" stroke="#e0474c" stroke-width="1.2"/>
<circle cx="113.38" cy="197.5" r="1.85" fill="#f0a4a4" stroke="#e0474c" stroke-width="1.2"/>
<circle cx="123.05" cy="197.5" r="1.85" fill="#f0a4a4" stroke="#e0474c" stroke-width="1.2"/>
<circle cx="132.73" cy="197.5" r="1.85" fill="#f0a4a4" stroke="#e0474c" stroke-width="1.2"/>
<circle cx="142.4" cy="197.5" r="1.85" fill="#f0a4a4" stroke="#e0474c" stroke-width="1.2"/>
<circle cx="152.07" cy="197.5" r="1.85" fill="#f0a4a4" stroke="#e0474c" stroke-width="1.2"/>
<circle cx="161.75" cy="197.5" r="1.85" fill="#f0a4a4" stroke="#e0474c" stroke-width="1.2"/>
<circle cx="171.43" cy="197.5" r="1.85" fill="#f0a4a4" stroke="#e0474c" stroke-width="1.2"/>
<circle cx="181.1" cy="197.5" r="1.85" fill="#f0a4a4" stroke="#e0474c" stroke-width="1.2"/>
<circle cx="190.78" cy="197.5" r="1.85" fill="#f0a4a4" stroke="#e0474c" stroke-width="1.2"/>
<circle cx="200.45" cy="197.5" r="1.85" fill="#f0a4a4" stroke="#e0474c" stroke-width="1.2"/>
<circle cx="210.12" cy="197.5" r="1.85" fill="#f0a4a4" stroke="#e0474c" stroke-width="1.2"/>
<circle cx="219.8" cy="197.5" r="1.85" fill="#f0a4a4" stroke="#e0474c" stroke-width="1.2"/>
<circle cx="229.48" cy="197.5" r="1.85" fill="#f0a4a4" stroke="#e0474c" stroke-width="1.2"/>
<circle cx="239.15" cy="197.5" r="1.85" fill="#f0a4a4" stroke="#e0474c" stroke-width="1.2"/>
<circle cx="248.83" cy="197.5" r="1.85" fill="#f0a4a4" stroke="#e0474c" stroke-width="1.2"/>
<rect x="63.65" y="252.06" width="2.7" height="2.7" fill="#9cb0d8" stroke="#34548f" stroke-width="1.05"/>
<rect x="73.33" y="224.24" width="2.7" height="2.7" fill="#9cb0d8" stroke="#34548f" stroke-width="1.05"/>
<rect x="83" y="192.8" width="2.7" height="2.7" fill="#9cb0d8" stroke="#34548f" stroke-width="1.05"/>
<rect x="92.68" y="167.39" width="2.7" height="2.7" fill="#9cb0d8" stroke="#34548f" stroke-width="1.05"/>
<rect x="102.35" y="149.77" width="2.7" height="2.7" fill="#9cb0d8" stroke="#34548f" stroke-width="1.05"/>
<rect x="112.03" y="139.46" width="2.7" height="2.7" fill="#9cb0d8" stroke="#34548f" stroke-width="1.05"/>
<rect x="121.7" y="137.3" width="2.7" height="2.7" fill="#9cb0d8" stroke="#34548f" stroke-width="1.05"/>
<rect x="131.38" y="142.4" width="2.7" height="2.7" fill="#9cb0d8" stroke="#34548f" stroke-width="1.05"/>
<rect x="141.05" y="154.41" width="2.7" height="2.7" fill="#9cb0d8" stroke="#34548f" stroke-width="1.05"/>
<rect x="150.72" y="172.44" width="2.7" height="2.7" fill="#9cb0d8" stroke="#34548f" stroke-width="1.05"/>
<rect x="160.4" y="196.15" width="2.7" height="2.7" fill="#9cb0d8" stroke="#34548f" stroke-width="1.05"/>
<rect x="170.08" y="219.86" width="2.7" height="2.7" fill="#9cb0d8" stroke="#34548f" stroke-width="1.05"/>
<rect x="179.75" y="237.89" width="2.7" height="2.7" fill="#9cb0d8" stroke="#34548f" stroke-width="1.05"/>
<rect x="189.43" y="249.9" width="2.7" height="2.7" fill="#9cb0d8" stroke="#34548f" stroke-width="1.05"/>
<rect x="199.1" y="255" width="2.7" height="2.7" fill="#9cb0d8" stroke="#34548f" stroke-width="1.05"/>
<rect x="208.78" y="252.84" width="2.7" height="2.7" fill="#9cb0d8" stroke="#34548f" stroke-width="1.05"/>
<rect x="218.45" y="242.53" width="2.7" height="2.7" fill="#9cb0d8" stroke="#34548f" stroke-width="1.05"/>
<rect x="228.13" y="224.91" width="2.7" height="2.7" fill="#9cb0d8" stroke="#34548f" stroke-width="1.05"/>
<rect x="237.8" y="199.5" width="2.7" height="2.7" fill="#9cb0d8" stroke="#34548f" stroke-width="1.05"/>
<rect x="247.48" y="168.06" width="2.7" height="2.7" fill="#9cb0d8" stroke="#34548f" stroke-width="1.05"/>
<rect x="63.65" y="221.14" width="2.7" height="2.7" fill="#d5def0" stroke="#34548f" stroke-width="1.05"/>
<rect x="73.33" y="209.75" width="2.7" height="2.7" fill="#d5def0" stroke="#34548f" stroke-width="1.05"/>
<rect x="83" y="194.6" width="2.7" height="2.7" fill="#d5def0" stroke="#34548f" stroke-width="1.05"/>
<rect x="92.68" y="182.75" width="2.7" height="2.7" fill="#d5def0" stroke="#34548f" stroke-width="1.05"/>
<rect x="102.35" y="173.73" width="2.7" height="2.7" fill="#d5def0" stroke="#34548f" stroke-width="1.05"/>
<rect x="112.03" y="168.53" width="2.7" height="2.7" fill="#d5def0" stroke="#34548f" stroke-width="1.05"/>
<rect x="121.7" y="167.76" width="2.7" height="2.7" fill="#d5def0" stroke="#34548f" stroke-width="1.05"/>
<rect x="131.38" y="171.16" width="2.7" height="2.7" fill="#d5def0" stroke="#34548f" stroke-width="1.05"/>
<rect x="141.05" y="176.72" width="2.7" height="2.7" fill="#d5def0" stroke="#34548f" stroke-width="1.05"/>
<rect x="150.72" y="185.12" width="2.7" height="2.7" fill="#d5def0" stroke="#34548f" stroke-width="1.05"/>
<rect x="160.4" y="196.15" width="2.7" height="2.7" fill="#d5def0" stroke="#34548f" stroke-width="1.05"/>
<rect x="170.08" y="207.18" width="2.7" height="2.7" fill="#d5def0" stroke="#34548f" stroke-width="1.05"/>
<rect x="179.75" y="215.58" width="2.7" height="2.7" fill="#d5def0" stroke="#34548f" stroke-width="1.05"/>
<rect x="189.43" y="221.14" width="2.7" height="2.7" fill="#d5def0" stroke="#34548f" stroke-width="1.05"/>
<rect x="199.1" y="224.54" width="2.7" height="2.7" fill="#d5def0" stroke="#34548f" stroke-width="1.05"/>
<rect x="208.78" y="223.77" width="2.7" height="2.7" fill="#d5def0" stroke="#34548f" stroke-width="1.05"/>
<rect x="218.45" y="218.57" width="2.7" height="2.7" fill="#d5def0" stroke="#34548f" stroke-width="1.05"/>
<rect x="228.13" y="209.55" width="2.7" height="2.7" fill="#d5def0" stroke="#34548f" stroke-width="1.05"/>
<rect x="237.8" y="197.7" width="2.7" height="2.7" fill="#d5def0" stroke="#34548f" stroke-width="1.05"/>
<rect x="247.48" y="182.55" width="2.7" height="2.7" fill="#d5def0" stroke="#34548f" stroke-width="1.05"/>
<line x1="332.5" y1="119.2" x2="332.5" y2="274.6" stroke="#808080" stroke-width="1.1"/>
<line x1="332" y1="274.6" x2="522" y2="274.6" stroke="#7a7a7a" stroke-width="1.3"/>
<line x1="332.5" y1="120" x2="334.7" y2="120" stroke="#444" stroke-width="0.8"/>
<line x1="332.5" y1="145.77" x2="334.7" y2="145.77" stroke="#444" stroke-width="0.8"/>
<line x1="332.5" y1="171.53" x2="334.7" y2="171.53" stroke="#444" stroke-width="0.8"/>
<line x1="332.5" y1="197.3" x2="334.7" y2="197.3" stroke="#444" stroke-width="0.8"/>
<line x1="332.5" y1="223.07" x2="334.7" y2="223.07" stroke="#444" stroke-width="0.8"/>
<line x1="332.5" y1="248.83" x2="334.7" y2="248.83" stroke="#444" stroke-width="0.8"/>
<line x1="332.5" y1="274.6" x2="334.7" y2="274.6" stroke="#444" stroke-width="0.8"/>
<line x1="332.5" y1="274.6" x2="332.5" y2="272.4" stroke="#444" stroke-width="0.8"/>
<line x1="379.77" y1="274.6" x2="379.77" y2="272.4" stroke="#444" stroke-width="0.8"/>
<line x1="427.05" y1="274.6" x2="427.05" y2="272.4" stroke="#444" stroke-width="0.8"/>
<line x1="474.33" y1="274.6" x2="474.33" y2="272.4" stroke="#444" stroke-width="0.8"/>
<line x1="521.6" y1="274.6" x2="521.6" y2="272.4" stroke="#444" stroke-width="0.8"/>
<text x="327.8" y="123.8" font-family="'Liberation Serif', serif" font-size="10.5" fill="#1a1a1a" text-anchor="end">-15000</text>
<text x="327.8" y="149.57" font-family="'Liberation Serif', serif" font-size="10.5" fill="#1a1a1a" text-anchor="end">-10000</text>
<text x="327.8" y="175.33" font-family="'Liberation Serif', serif" font-size="10.5" fill="#1a1a1a" text-anchor="end">-5000</text>
<text x="327.8" y="201.1" font-family="'Liberation Serif', serif" font-size="10.5" fill="#1a1a1a" text-anchor="end">0</text>
<text x="327.8" y="226.87" font-family="'Liberation Serif', serif" font-size="10.5" fill="#1a1a1a" text-anchor="end">5000</text>
<text x="327.8" y="252.63" font-family="'Liberation Serif', serif" font-size="10.5" fill="#1a1a1a" text-anchor="end">10000</text>
<text x="327.8" y="278.4" font-family="'Liberation Serif', serif" font-size="10.5" fill="#1a1a1a" text-anchor="end">15000</text>
<text x="332.5" y="290" font-family="'Liberation Serif', serif" font-size="10.1" fill="#1a1a1a" text-anchor="middle">-0.5</text>
<text x="379.77" y="290" font-family="'Liberation Serif', serif" font-size="10.1" fill="#1a1a1a" text-anchor="middle">-0.25</text>
<text x="427.05" y="290" font-family="'Liberation Serif', serif" font-size="10.1" fill="#1a1a1a" text-anchor="middle">0</text>
<text x="474.33" y="290" font-family="'Liberation Serif', serif" font-size="10.1" fill="#1a1a1a" text-anchor="middle">0.25</text>
<text x="521.6" y="290" font-family="'Liberation Serif', serif" font-size="10.1" fill="#1a1a1a" text-anchor="middle">0.5</text>
<text x="427.05" y="302.8" font-family="'Liberation Serif', serif" font-size="10.4" font-weight="bold" fill="#1a1a1a" text-anchor="middle">x<tspan font-style="italic">/L</tspan></text>
<text transform="translate(289,225.8) rotate(-90)" font-family="'Liberation Serif', serif" font-size="9.6" font-weight="bold" fill="#1a1a1a">M<tspan font-size="7.8" dx="1.0" dy="3.6">D,<tspan font-style="italic">z</tspan></tspan><tspan font-size="10.3" dy="-3.6"> [kN·m]</tspan></text>
<text x="350.6" y="112.1" font-family="'Liberation Serif', serif" font-size="12.2" font-weight="bold" fill="#1a1a1a">b)</text>
<line x1="332.5" y1="197.3" x2="521.6" y2="197.3" stroke="#e0474c" stroke-width="1.25"/>
<path d="M332.5,142.6 C334.08,143.83 338.8,147.53 341.95,150 C345.11,152.47 348.26,154.98 351.41,157.4 C354.56,159.82 357.71,162.18 360.87,164.5 C364.02,166.82 367.17,169.17 370.32,171.3 C373.47,173.43 376.62,175.38 379.77,177.3 C382.93,179.22 386.08,181.17 389.23,182.8 C392.38,184.43 395.53,185.72 398.69,187.1 C401.84,188.48 404.99,189.83 408.14,191.1 C411.29,192.37 414.44,193.67 417.6,194.7 C420.75,195.73 423.9,196.43 427.05,197.3 C430.2,198.17 433.35,198.87 436.5,199.9 C439.66,200.93 442.81,202.23 445.96,203.5 C449.11,204.77 452.26,206.12 455.42,207.5 C458.57,208.88 461.72,210.17 464.87,211.8 C468.02,213.43 471.17,215.38 474.33,217.3 C477.48,219.22 480.63,221.17 483.78,223.3 C486.93,225.43 490.08,227.78 493.24,230.1 C496.39,232.42 499.54,234.78 502.69,237.2 C505.84,239.62 508.99,242.13 512.14,244.6 C515.3,247.07 520.02,250.77 521.6,252" fill="none" stroke="#3b5ca6" stroke-width="1"/>
<path d="M332.5,170.3 C334.08,170.88 338.8,172.58 341.95,173.8 C345.11,175.02 348.26,176.43 351.41,177.6 C354.56,178.77 357.71,179.68 360.87,180.8 C364.02,181.92 367.17,183.2 370.32,184.3 C373.47,185.4 376.62,186.45 379.77,187.4 C382.93,188.35 386.08,189.23 389.23,190 C392.38,190.77 395.53,191.4 398.69,192 C401.84,192.6 404.99,192.97 408.14,193.6 C411.29,194.23 414.44,195.18 417.6,195.8 C420.75,196.42 423.9,196.8 427.05,197.3 C430.2,197.8 433.35,198.18 436.5,198.8 C439.66,199.42 442.81,200.37 445.96,201 C449.11,201.63 452.26,202 455.42,202.6 C458.57,203.2 461.72,203.83 464.87,204.6 C468.02,205.37 471.17,206.25 474.33,207.2 C477.48,208.15 480.63,209.2 483.78,210.3 C486.93,211.4 490.08,212.68 493.24,213.8 C496.39,214.92 499.54,215.83 502.69,217 C505.84,218.17 508.99,219.58 512.14,220.8 C515.3,222.02 520.02,223.72 521.6,224.3" fill="none" stroke="#3b5ca6" stroke-width="1" stroke-dasharray="3,3"/>
<circle cx="332.5" cy="197.3" r="1.85" fill="#f0a4a4" stroke="#e0474c" stroke-width="1.2"/>
<circle cx="341.95" cy="197.3" r="1.85" fill="#f0a4a4" stroke="#e0474c" stroke-width="1.2"/>
<circle cx="351.41" cy="197.3" r="1.85" fill="#f0a4a4" stroke="#e0474c" stroke-width="1.2"/>
<circle cx="360.87" cy="197.3" r="1.85" fill="#f0a4a4" stroke="#e0474c" stroke-width="1.2"/>
<circle cx="370.32" cy="197.3" r="1.85" fill="#f0a4a4" stroke="#e0474c" stroke-width="1.2"/>
<circle cx="379.77" cy="197.3" r="1.85" fill="#f0a4a4" stroke="#e0474c" stroke-width="1.2"/>
<circle cx="389.23" cy="197.3" r="1.85" fill="#f0a4a4" stroke="#e0474c" stroke-width="1.2"/>
<circle cx="398.69" cy="197.3" r="1.85" fill="#f0a4a4" stroke="#e0474c" stroke-width="1.2"/>
<circle cx="408.14" cy="197.3" r="1.85" fill="#f0a4a4" stroke="#e0474c" stroke-width="1.2"/>
<circle cx="417.6" cy="197.3" r="1.85" fill="#f0a4a4" stroke="#e0474c" stroke-width="1.2"/>
<circle cx="427.05" cy="197.3" r="1.85" fill="#f0a4a4" stroke="#e0474c" stroke-width="1.2"/>
<circle cx="436.5" cy="197.3" r="1.85" fill="#f0a4a4" stroke="#e0474c" stroke-width="1.2"/>
<circle cx="445.96" cy="197.3" r="1.85" fill="#f0a4a4" stroke="#e0474c" stroke-width="1.2"/>
<circle cx="455.42" cy="197.3" r="1.85" fill="#f0a4a4" stroke="#e0474c" stroke-width="1.2"/>
<circle cx="464.87" cy="197.3" r="1.85" fill="#f0a4a4" stroke="#e0474c" stroke-width="1.2"/>
<circle cx="474.33" cy="197.3" r="1.85" fill="#f0a4a4" stroke="#e0474c" stroke-width="1.2"/>
<circle cx="483.78" cy="197.3" r="1.85" fill="#f0a4a4" stroke="#e0474c" stroke-width="1.2"/>
<circle cx="493.24" cy="197.3" r="1.85" fill="#f0a4a4" stroke="#e0474c" stroke-width="1.2"/>
<circle cx="502.69" cy="197.3" r="1.85" fill="#f0a4a4" stroke="#e0474c" stroke-width="1.2"/>
<circle cx="512.14" cy="197.3" r="1.85" fill="#f0a4a4" stroke="#e0474c" stroke-width="1.2"/>
<rect x="331.15" y="141.25" width="2.7" height="2.7" fill="#9cb0d8" stroke="#34548f" stroke-width="1.05"/>
<rect x="340.6" y="148.65" width="2.7" height="2.7" fill="#9cb0d8" stroke="#34548f" stroke-width="1.05"/>
<rect x="350.06" y="156.05" width="2.7" height="2.7" fill="#9cb0d8" stroke="#34548f" stroke-width="1.05"/>
<rect x="359.51" y="163.15" width="2.7" height="2.7" fill="#9cb0d8" stroke="#34548f" stroke-width="1.05"/>
<rect x="368.97" y="169.95" width="2.7" height="2.7" fill="#9cb0d8" stroke="#34548f" stroke-width="1.05"/>
<rect x="378.42" y="175.95" width="2.7" height="2.7" fill="#9cb0d8" stroke="#34548f" stroke-width="1.05"/>
<rect x="387.88" y="181.45" width="2.7" height="2.7" fill="#9cb0d8" stroke="#34548f" stroke-width="1.05"/>
<rect x="397.33" y="185.75" width="2.7" height="2.7" fill="#9cb0d8" stroke="#34548f" stroke-width="1.05"/>
<rect x="406.79" y="189.75" width="2.7" height="2.7" fill="#9cb0d8" stroke="#34548f" stroke-width="1.05"/>
<rect x="416.25" y="193.35" width="2.7" height="2.7" fill="#9cb0d8" stroke="#34548f" stroke-width="1.05"/>
<rect x="425.7" y="195.95" width="2.7" height="2.7" fill="#9cb0d8" stroke="#34548f" stroke-width="1.05"/>
<rect x="435.15" y="198.55" width="2.7" height="2.7" fill="#9cb0d8" stroke="#34548f" stroke-width="1.05"/>
<rect x="444.61" y="202.15" width="2.7" height="2.7" fill="#9cb0d8" stroke="#34548f" stroke-width="1.05"/>
<rect x="454.06" y="206.15" width="2.7" height="2.7" fill="#9cb0d8" stroke="#34548f" stroke-width="1.05"/>
<rect x="463.52" y="210.45" width="2.7" height="2.7" fill="#9cb0d8" stroke="#34548f" stroke-width="1.05"/>
<rect x="472.98" y="215.95" width="2.7" height="2.7" fill="#9cb0d8" stroke="#34548f" stroke-width="1.05"/>
<rect x="482.43" y="221.95" width="2.7" height="2.7" fill="#9cb0d8" stroke="#34548f" stroke-width="1.05"/>
<rect x="491.88" y="228.75" width="2.7" height="2.7" fill="#9cb0d8" stroke="#34548f" stroke-width="1.05"/>
<rect x="501.34" y="235.85" width="2.7" height="2.7" fill="#9cb0d8" stroke="#34548f" stroke-width="1.05"/>
<rect x="510.79" y="243.25" width="2.7" height="2.7" fill="#9cb0d8" stroke="#34548f" stroke-width="1.05"/>
<rect x="331.15" y="168.95" width="2.7" height="2.7" fill="#d5def0" stroke="#34548f" stroke-width="1.05"/>
<rect x="340.6" y="172.45" width="2.7" height="2.7" fill="#d5def0" stroke="#34548f" stroke-width="1.05"/>
<rect x="350.06" y="176.25" width="2.7" height="2.7" fill="#d5def0" stroke="#34548f" stroke-width="1.05"/>
<rect x="359.51" y="179.45" width="2.7" height="2.7" fill="#d5def0" stroke="#34548f" stroke-width="1.05"/>
<rect x="368.97" y="182.95" width="2.7" height="2.7" fill="#d5def0" stroke="#34548f" stroke-width="1.05"/>
<rect x="378.42" y="186.05" width="2.7" height="2.7" fill="#d5def0" stroke="#34548f" stroke-width="1.05"/>
<rect x="387.88" y="188.65" width="2.7" height="2.7" fill="#d5def0" stroke="#34548f" stroke-width="1.05"/>
<rect x="397.33" y="190.65" width="2.7" height="2.7" fill="#d5def0" stroke="#34548f" stroke-width="1.05"/>
<rect x="406.79" y="192.25" width="2.7" height="2.7" fill="#d5def0" stroke="#34548f" stroke-width="1.05"/>
<rect x="416.25" y="194.45" width="2.7" height="2.7" fill="#d5def0" stroke="#34548f" stroke-width="1.05"/>
<rect x="425.7" y="195.95" width="2.7" height="2.7" fill="#d5def0" stroke="#34548f" stroke-width="1.05"/>
<rect x="435.15" y="197.45" width="2.7" height="2.7" fill="#d5def0" stroke="#34548f" stroke-width="1.05"/>
<rect x="444.61" y="199.65" width="2.7" height="2.7" fill="#d5def0" stroke="#34548f" stroke-width="1.05"/>
<rect x="454.06" y="201.25" width="2.7" height="2.7" fill="#d5def0" stroke="#34548f" stroke-width="1.05"/>
<rect x="463.52" y="203.25" width="2.7" height="2.7" fill="#d5def0" stroke="#34548f" stroke-width="1.05"/>
<rect x="472.98" y="205.85" width="2.7" height="2.7" fill="#d5def0" stroke="#34548f" stroke-width="1.05"/>
<rect x="482.43" y="208.95" width="2.7" height="2.7" fill="#d5def0" stroke="#34548f" stroke-width="1.05"/>
<rect x="491.88" y="212.45" width="2.7" height="2.7" fill="#d5def0" stroke="#34548f" stroke-width="1.05"/>
<rect x="501.34" y="215.65" width="2.7" height="2.7" fill="#d5def0" stroke="#34548f" stroke-width="1.05"/>
<rect x="510.79" y="219.45" width="2.7" height="2.7" fill="#d5def0" stroke="#34548f" stroke-width="1.05"/>
<line x1="65" y1="331.3" x2="65" y2="487.2" stroke="#a2a2a2" stroke-width="1.7"/>
<line x1="64.5" y1="487.2" x2="264" y2="487.2" stroke="#333" stroke-width="1.2"/>
<line x1="65" y1="332.1" x2="67.2" y2="332.1" stroke="#444" stroke-width="0.8"/>
<line x1="65" y1="366.57" x2="67.2" y2="366.57" stroke="#444" stroke-width="0.8"/>
<line x1="65" y1="401.03" x2="67.2" y2="401.03" stroke="#444" stroke-width="0.8"/>
<line x1="65" y1="435.5" x2="67.2" y2="435.5" stroke="#444" stroke-width="0.8"/>
<line x1="65" y1="469.97" x2="67.2" y2="469.97" stroke="#444" stroke-width="0.8"/>
<line x1="65" y1="487.2" x2="65" y2="485" stroke="#444" stroke-width="0.8"/>
<line x1="114.65" y1="487.2" x2="114.65" y2="485" stroke="#444" stroke-width="0.8"/>
<line x1="164.3" y1="487.2" x2="164.3" y2="485" stroke="#444" stroke-width="0.8"/>
<line x1="213.95" y1="487.2" x2="213.95" y2="485" stroke="#444" stroke-width="0.8"/>
<line x1="263.6" y1="487.2" x2="263.6" y2="485" stroke="#444" stroke-width="0.8"/>
<text x="59.9" y="335.9" font-family="'Liberation Serif', serif" font-size="10.5" fill="#1a1a1a" text-anchor="end">-200</text>
<text x="59.9" y="370.37" font-family="'Liberation Serif', serif" font-size="10.5" fill="#1a1a1a" text-anchor="end">-100</text>
<text x="59.9" y="404.83" font-family="'Liberation Serif', serif" font-size="10.5" fill="#1a1a1a" text-anchor="end">0</text>
<text x="59.9" y="439.3" font-family="'Liberation Serif', serif" font-size="10.5" fill="#1a1a1a" text-anchor="end">100</text>
<text x="59.9" y="473.77" font-family="'Liberation Serif', serif" font-size="10.5" fill="#1a1a1a" text-anchor="end">200</text>
<text x="65" y="502.3" font-family="'Liberation Serif', serif" font-size="10.1" fill="#1a1a1a" text-anchor="middle">-0.5</text>
<text x="114.65" y="502.3" font-family="'Liberation Serif', serif" font-size="10.1" fill="#1a1a1a" text-anchor="middle">-0.25</text>
<text x="164.3" y="502.3" font-family="'Liberation Serif', serif" font-size="10.1" fill="#1a1a1a" text-anchor="middle">0</text>
<text x="213.95" y="502.3" font-family="'Liberation Serif', serif" font-size="10.1" fill="#1a1a1a" text-anchor="middle">0.25</text>
<text x="263.6" y="502.3" font-family="'Liberation Serif', serif" font-size="10.1" fill="#1a1a1a" text-anchor="middle">0.5</text>
<text x="164.3" y="515.1" font-family="'Liberation Serif', serif" font-size="10.4" font-weight="bold" fill="#1a1a1a" text-anchor="middle">x<tspan font-style="italic">/L</tspan></text>
<text transform="translate(30.9,431) rotate(-90)" font-family="'Liberation Serif', serif" font-size="8.5" font-weight="bold" fill="#1a1a1a">T<tspan font-size="6.6" dx="0.4" dy="3.6">A</tspan><tspan font-size="9.7" dy="-3.6"> [kN·m]</tspan></text>
<text x="86.6" y="323.6" font-family="'Liberation Serif', serif" font-size="12.2" font-weight="bold" fill="#1a1a1a">c)</text>
<line x1="65" y1="400.7" x2="263.6" y2="400.7" stroke="#e0474c" stroke-width="1.25"/>
<path d="M65,461.7 V466.36 H67.48 V470.98 H69.97 V475.18 H72.45 V478.5 H74.93 V480.67 H77.41 V482.02 H79.89 V482.59 H82.38 V482.4 H84.86 V481.37 H87.34 V479.51 H89.83 V477.02 H92.31 V474.1 H94.79 V470.79 H97.27 V466.98 H99.76 V462.68 H102.24 V457.9 H104.72 V452.59 H107.2 V446.75 H109.69 V440.51 H112.17 V434 H114.65 V427.05 H117.13 V419.66 H119.62 V412.19 H122.1 V405 H124.58 V398.15 H127.06 V391.46 H129.55 V384.94 H132.03 V378.6 H134.51 V372.33 H136.99 V366.17 H139.48 V360.33 H141.96 V355 H144.44 V350.13 H146.92 V345.64 H149.41 V341.73 H151.89 V338.6 H154.37 V336.25 H156.85 V334.59 H159.34 V333.68 H161.82 V333.6 H164.3 V334.4 H166.78 V336.02 H169.27 V338.39 H171.75 V341.4 H174.23 V345.15 H176.71 V349.66 H179.19 V354.68 H181.68 V360 H184.16 V365.64 H186.64 V371.69 H189.13 V378.03 H191.61 V384.5 H194.09 V391.14 H196.57 V397.99 H199.06 V404.97 H201.54 V412 H204.02 V419.25 H206.5 V426.69 H208.99 V433.97 H211.47 V440.7 H213.95 V446.84 H216.43 V452.56 H218.92 V457.86 H221.4 V462.7 H223.88 V467.14 H226.36 V471.18 H228.85 V474.7 H231.33 V477.6 H233.81 V479.91 H236.29 V481.66 H238.78 V482.76 H241.26 V483.1 H243.74 V482.58 H246.22 V481.29 H248.71 V479.37 H251.19 V477 H253.67 V473.98 H256.15 V470.41 H258.63 V466.57 H261.12 V462.7 H263.6" fill="none" stroke="#5070aa" stroke-width="0.9"/>
<path d="M65,429.8 C66.66,431.3 71.62,437.05 74.93,438.8 C78.24,440.55 81.55,440.72 84.86,440.3 C88.17,439.88 91.48,438.37 94.79,436.3 C98.1,434.23 101.41,431.22 104.72,427.9 C108.03,424.58 111.34,420.45 114.65,416.4 C117.96,412.35 121.27,408.1 124.58,403.6 C127.89,399.1 131.2,393.67 134.51,389.4 C137.82,385.13 141.13,381.07 144.44,378 C147.75,374.93 151.06,372.6 154.37,371 C157.68,369.4 160.99,368.17 164.3,368.4 C167.61,368.63 170.92,370.37 174.23,372.4 C177.54,374.43 180.85,377.33 184.16,380.6 C187.47,383.87 190.78,387.7 194.09,392 C197.4,396.3 200.71,401.8 204.02,406.4 C207.33,411 210.64,415.55 213.95,419.6 C217.26,423.65 220.57,427.67 223.88,430.7 C227.19,433.73 230.5,436.2 233.81,437.8 C237.12,439.4 240.43,440.37 243.74,440.3 C247.05,440.23 250.36,438.93 253.67,437.4 C256.98,435.87 261.95,432.15 263.6,431.1" fill="none" stroke="#3b5ca6" stroke-width="1" stroke-dasharray="3,3"/>
<circle cx="65" cy="400.7" r="1.85" fill="#f0a4a4" stroke="#e0474c" stroke-width="1.2"/>
<circle cx="74.93" cy="400.7" r="1.85" fill="#f0a4a4" stroke="#e0474c" stroke-width="1.2"/>
<circle cx="84.86" cy="400.7" r="1.85" fill="#f0a4a4" stroke="#e0474c" stroke-width="1.2"/>
<circle cx="94.79" cy="400.7" r="1.85" fill="#f0a4a4" stroke="#e0474c" stroke-width="1.2"/>
<circle cx="104.72" cy="400.7" r="1.85" fill="#f0a4a4" stroke="#e0474c" stroke-width="1.2"/>
<circle cx="114.65" cy="400.7" r="1.85" fill="#f0a4a4" stroke="#e0474c" stroke-width="1.2"/>
<circle cx="124.58" cy="400.7" r="1.85" fill="#f0a4a4" stroke="#e0474c" stroke-width="1.2"/>
<circle cx="134.51" cy="400.7" r="1.85" fill="#f0a4a4" stroke="#e0474c" stroke-width="1.2"/>
<circle cx="144.44" cy="400.7" r="1.85" fill="#f0a4a4" stroke="#e0474c" stroke-width="1.2"/>
<circle cx="154.37" cy="400.7" r="1.85" fill="#f0a4a4" stroke="#e0474c" stroke-width="1.2"/>
<circle cx="164.3" cy="400.7" r="1.85" fill="#f0a4a4" stroke="#e0474c" stroke-width="1.2"/>
<circle cx="174.23" cy="400.7" r="1.85" fill="#f0a4a4" stroke="#e0474c" stroke-width="1.2"/>
<circle cx="184.16" cy="400.7" r="1.85" fill="#f0a4a4" stroke="#e0474c" stroke-width="1.2"/>
<circle cx="194.09" cy="400.7" r="1.85" fill="#f0a4a4" stroke="#e0474c" stroke-width="1.2"/>
<circle cx="204.02" cy="400.7" r="1.85" fill="#f0a4a4" stroke="#e0474c" stroke-width="1.2"/>
<circle cx="213.95" cy="400.7" r="1.85" fill="#f0a4a4" stroke="#e0474c" stroke-width="1.2"/>
<circle cx="223.88" cy="400.7" r="1.85" fill="#f0a4a4" stroke="#e0474c" stroke-width="1.2"/>
<circle cx="233.81" cy="400.7" r="1.85" fill="#f0a4a4" stroke="#e0474c" stroke-width="1.2"/>
<circle cx="243.74" cy="400.7" r="1.85" fill="#f0a4a4" stroke="#e0474c" stroke-width="1.2"/>
<circle cx="253.67" cy="400.7" r="1.85" fill="#f0a4a4" stroke="#e0474c" stroke-width="1.2"/>
<rect x="63.65" y="460.35" width="2.7" height="2.7" fill="#9cb0d8" stroke="#34548f" stroke-width="1.05"/>
<rect x="73.58" y="477.15" width="2.7" height="2.7" fill="#9cb0d8" stroke="#34548f" stroke-width="1.05"/>
<rect x="83.51" y="481.05" width="2.7" height="2.7" fill="#9cb0d8" stroke="#34548f" stroke-width="1.05"/>
<rect x="93.44" y="472.75" width="2.7" height="2.7" fill="#9cb0d8" stroke="#34548f" stroke-width="1.05"/>
<rect x="103.37" y="456.55" width="2.7" height="2.7" fill="#9cb0d8" stroke="#34548f" stroke-width="1.05"/>
<rect x="113.3" y="432.65" width="2.7" height="2.7" fill="#9cb0d8" stroke="#34548f" stroke-width="1.05"/>
<rect x="123.23" y="403.65" width="2.7" height="2.7" fill="#9cb0d8" stroke="#34548f" stroke-width="1.05"/>
<rect x="133.16" y="377.25" width="2.7" height="2.7" fill="#9cb0d8" stroke="#34548f" stroke-width="1.05"/>
<rect x="143.09" y="353.65" width="2.7" height="2.7" fill="#9cb0d8" stroke="#34548f" stroke-width="1.05"/>
<rect x="153.02" y="337.25" width="2.7" height="2.7" fill="#9cb0d8" stroke="#34548f" stroke-width="1.05"/>
<rect x="162.95" y="332.25" width="2.7" height="2.7" fill="#9cb0d8" stroke="#34548f" stroke-width="1.05"/>
<rect x="172.88" y="340.05" width="2.7" height="2.7" fill="#9cb0d8" stroke="#34548f" stroke-width="1.05"/>
<rect x="182.81" y="358.65" width="2.7" height="2.7" fill="#9cb0d8" stroke="#34548f" stroke-width="1.05"/>
<rect x="192.74" y="383.15" width="2.7" height="2.7" fill="#9cb0d8" stroke="#34548f" stroke-width="1.05"/>
<rect x="202.67" y="410.65" width="2.7" height="2.7" fill="#9cb0d8" stroke="#34548f" stroke-width="1.05"/>
<rect x="212.6" y="439.35" width="2.7" height="2.7" fill="#9cb0d8" stroke="#34548f" stroke-width="1.05"/>
<rect x="222.53" y="461.35" width="2.7" height="2.7" fill="#9cb0d8" stroke="#34548f" stroke-width="1.05"/>
<rect x="232.46" y="476.25" width="2.7" height="2.7" fill="#9cb0d8" stroke="#34548f" stroke-width="1.05"/>
<rect x="242.39" y="481.75" width="2.7" height="2.7" fill="#9cb0d8" stroke="#34548f" stroke-width="1.05"/>
<rect x="252.32" y="475.65" width="2.7" height="2.7" fill="#9cb0d8" stroke="#34548f" stroke-width="1.05"/>
<rect x="63.65" y="428.45" width="2.7" height="2.7" fill="#d5def0" stroke="#34548f" stroke-width="1.05"/>
<rect x="73.58" y="437.45" width="2.7" height="2.7" fill="#d5def0" stroke="#34548f" stroke-width="1.05"/>
<rect x="83.51" y="438.95" width="2.7" height="2.7" fill="#d5def0" stroke="#34548f" stroke-width="1.05"/>
<rect x="93.44" y="434.95" width="2.7" height="2.7" fill="#d5def0" stroke="#34548f" stroke-width="1.05"/>
<rect x="103.37" y="426.55" width="2.7" height="2.7" fill="#d5def0" stroke="#34548f" stroke-width="1.05"/>
<rect x="113.3" y="415.05" width="2.7" height="2.7" fill="#d5def0" stroke="#34548f" stroke-width="1.05"/>
<rect x="123.23" y="402.25" width="2.7" height="2.7" fill="#d5def0" stroke="#34548f" stroke-width="1.05"/>
<rect x="133.16" y="388.05" width="2.7" height="2.7" fill="#d5def0" stroke="#34548f" stroke-width="1.05"/>
<rect x="143.09" y="376.65" width="2.7" height="2.7" fill="#d5def0" stroke="#34548f" stroke-width="1.05"/>
<rect x="153.02" y="369.65" width="2.7" height="2.7" fill="#d5def0" stroke="#34548f" stroke-width="1.05"/>
<rect x="162.95" y="367.05" width="2.7" height="2.7" fill="#d5def0" stroke="#34548f" stroke-width="1.05"/>
<rect x="172.88" y="371.05" width="2.7" height="2.7" fill="#d5def0" stroke="#34548f" stroke-width="1.05"/>
<rect x="182.81" y="379.25" width="2.7" height="2.7" fill="#d5def0" stroke="#34548f" stroke-width="1.05"/>
<rect x="192.74" y="390.65" width="2.7" height="2.7" fill="#d5def0" stroke="#34548f" stroke-width="1.05"/>
<rect x="202.67" y="405.05" width="2.7" height="2.7" fill="#d5def0" stroke="#34548f" stroke-width="1.05"/>
<rect x="212.6" y="418.25" width="2.7" height="2.7" fill="#d5def0" stroke="#34548f" stroke-width="1.05"/>
<rect x="222.53" y="429.35" width="2.7" height="2.7" fill="#d5def0" stroke="#34548f" stroke-width="1.05"/>
<rect x="232.46" y="436.45" width="2.7" height="2.7" fill="#d5def0" stroke="#34548f" stroke-width="1.05"/>
<rect x="242.39" y="438.95" width="2.7" height="2.7" fill="#d5def0" stroke="#34548f" stroke-width="1.05"/>
<rect x="252.32" y="436.05" width="2.7" height="2.7" fill="#d5def0" stroke="#34548f" stroke-width="1.05"/>
<line x1="332.5" y1="331" x2="332.5" y2="487.2" stroke="#808080" stroke-width="1.1"/>
<line x1="332" y1="487.2" x2="526.4" y2="487.2" stroke="#333" stroke-width="1.2"/>
<line x1="332.5" y1="331.8" x2="334.7" y2="331.8" stroke="#444" stroke-width="0.8"/>
<line x1="332.5" y1="357.7" x2="334.7" y2="357.7" stroke="#444" stroke-width="0.8"/>
<line x1="332.5" y1="383.6" x2="334.7" y2="383.6" stroke="#444" stroke-width="0.8"/>
<line x1="332.5" y1="409.5" x2="334.7" y2="409.5" stroke="#444" stroke-width="0.8"/>
<line x1="332.5" y1="435.4" x2="334.7" y2="435.4" stroke="#444" stroke-width="0.8"/>
<line x1="332.5" y1="461.3" x2="334.7" y2="461.3" stroke="#444" stroke-width="0.8"/>
<line x1="332.5" y1="487.2" x2="334.7" y2="487.2" stroke="#444" stroke-width="0.8"/>
<line x1="332.5" y1="487.2" x2="332.5" y2="485" stroke="#444" stroke-width="0.8"/>
<line x1="380.88" y1="487.2" x2="380.88" y2="485" stroke="#444" stroke-width="0.8"/>
<line x1="429.25" y1="487.2" x2="429.25" y2="485" stroke="#444" stroke-width="0.8"/>
<line x1="477.62" y1="487.2" x2="477.62" y2="485" stroke="#444" stroke-width="0.8"/>
<line x1="526" y1="487.2" x2="526" y2="485" stroke="#444" stroke-width="0.8"/>
<text x="327.8" y="335.6" font-family="'Liberation Serif', serif" font-size="10.5" fill="#1a1a1a" text-anchor="end">-3000</text>
<text x="327.8" y="361.5" font-family="'Liberation Serif', serif" font-size="10.5" fill="#1a1a1a" text-anchor="end">-2000</text>
<text x="327.8" y="387.4" font-family="'Liberation Serif', serif" font-size="10.5" fill="#1a1a1a" text-anchor="end">-1000</text>
<text x="327.8" y="413.3" font-family="'Liberation Serif', serif" font-size="10.5" fill="#1a1a1a" text-anchor="end">0</text>
<text x="327.8" y="439.2" font-family="'Liberation Serif', serif" font-size="10.5" fill="#1a1a1a" text-anchor="end">1000</text>
<text x="327.8" y="465.1" font-family="'Liberation Serif', serif" font-size="10.5" fill="#1a1a1a" text-anchor="end">2000</text>
<text x="327.8" y="491" font-family="'Liberation Serif', serif" font-size="10.5" fill="#1a1a1a" text-anchor="end">3000</text>
<text x="332.5" y="502.3" font-family="'Liberation Serif', serif" font-size="10.1" fill="#1a1a1a" text-anchor="middle">-0.5</text>
<text x="380.88" y="502.3" font-family="'Liberation Serif', serif" font-size="10.1" fill="#1a1a1a" text-anchor="middle">-0.25</text>
<text x="429.25" y="502.3" font-family="'Liberation Serif', serif" font-size="10.1" fill="#1a1a1a" text-anchor="middle">0</text>
<text x="477.62" y="502.3" font-family="'Liberation Serif', serif" font-size="10.1" fill="#1a1a1a" text-anchor="middle">0.25</text>
<text x="526" y="502.3" font-family="'Liberation Serif', serif" font-size="10.1" fill="#1a1a1a" text-anchor="middle">0.5</text>
<text x="429.25" y="515.1" font-family="'Liberation Serif', serif" font-size="10.4" font-weight="bold" fill="#1a1a1a" text-anchor="middle">x<tspan font-style="italic">/L</tspan></text>
<text transform="translate(292.9,431) rotate(-90)" font-family="'Liberation Serif', serif" font-size="8.5" font-weight="bold" fill="#1a1a1a">T<tspan font-size="6.6" dx="0.4" dy="3.6">D</tspan><tspan font-size="9.7" dy="-3.6"> [kN·m]</tspan></text>
<text x="350.6" y="323.6" font-family="'Liberation Serif', serif" font-size="12.2" font-weight="bold" fill="#1a1a1a">d)</text>
<line x1="332.5" y1="409.4" x2="526" y2="409.4" stroke="#e0474c" stroke-width="1.25"/>
<polyline points="332.5,383.6 342.18,388.78 351.85,393.96 361.52,399.14 371.2,404.32 380.88,409.5 390.55,414.68 400.23,419.86 409.9,425.04 419.57,430.22 429.25,435.4 438.93,430.22 448.6,425.04 458.27,419.86 467.95,414.68 477.62,409.5 487.3,404.32 496.98,399.14 506.65,393.96 516.33,388.78 526,383.6" fill="none" stroke="#e0474c" stroke-width="1" stroke-dasharray="3,3"/>
<path d="M332.5,348.3 H342.18 V344.1 H351.85 V358.4 H361.52 V378 H371.2 V398.8 H380.88 V419.7 H390.55 V438.8 H400.23 V455.5 H409.9 V469.9 H419.57 V483.3 H429.25 V483.3 H438.93 V469.9 H448.6 V455.7 H458.27 V439.1 H467.95 V419.5 H477.62 V398.5 H487.3 V378 H496.98 V358.6 H506.65 V344.3 H516.33 V348.2 H526" fill="none" stroke="#3b5ca6" stroke-width="1.1"/>
<path d="M332.5,359.4 L342.18,364.58 L342.18,357 L351.85,362.18 L351.85,368 L361.52,373.18 L361.52,383.2 L371.2,388.38 L371.2,403.6 L380.88,408.78 L380.88,413.5 L390.55,418.68 L390.55,428.5 L400.23,433.68 L400.23,441.7 L409.9,446.88 L409.9,452.6 L419.57,457.78 L419.57,463.5 L429.25,468.68 L429.25,469.5 L438.93,464.32 L438.93,458.5 L448.6,453.32 L448.6,446.6 L458.27,441.42 L458.27,434.2 L467.95,429.02 L467.95,419 L477.62,413.82 L477.62,403.5 L487.3,398.32 L487.3,388.3 L496.98,383.12 L496.98,373.7 L506.65,368.52 L506.65,362.5 L516.33,357.32 L516.33,364.2 L526,359.02" fill="none" stroke="#3b5ca6" stroke-width="1" stroke-dasharray="3,3.4" stroke-dashoffset="-2.5"/>
<circle cx="332.5" cy="409.4" r="1.85" fill="#f0a4a4" stroke="#e0474c" stroke-width="1.2"/>
<circle cx="342.18" cy="409.4" r="1.85" fill="#f0a4a4" stroke="#e0474c" stroke-width="1.2"/>
<circle cx="351.85" cy="409.4" r="1.85" fill="#f0a4a4" stroke="#e0474c" stroke-width="1.2"/>
<circle cx="361.52" cy="409.4" r="1.85" fill="#f0a4a4" stroke="#e0474c" stroke-width="1.2"/>
<circle cx="371.2" cy="409.4" r="1.85" fill="#f0a4a4" stroke="#e0474c" stroke-width="1.2"/>
<circle cx="380.88" cy="409.4" r="1.85" fill="#f0a4a4" stroke="#e0474c" stroke-width="1.2"/>
<circle cx="390.55" cy="409.4" r="1.85" fill="#f0a4a4" stroke="#e0474c" stroke-width="1.2"/>
<circle cx="400.23" cy="409.4" r="1.85" fill="#f0a4a4" stroke="#e0474c" stroke-width="1.2"/>
<circle cx="409.9" cy="409.4" r="1.85" fill="#f0a4a4" stroke="#e0474c" stroke-width="1.2"/>
<circle cx="419.57" cy="409.4" r="1.85" fill="#f0a4a4" stroke="#e0474c" stroke-width="1.2"/>
<circle cx="429.25" cy="409.4" r="1.85" fill="#f0a4a4" stroke="#e0474c" stroke-width="1.2"/>
<circle cx="438.93" cy="409.4" r="1.85" fill="#f0a4a4" stroke="#e0474c" stroke-width="1.2"/>
<circle cx="448.6" cy="409.4" r="1.85" fill="#f0a4a4" stroke="#e0474c" stroke-width="1.2"/>
<circle cx="458.27" cy="409.4" r="1.85" fill="#f0a4a4" stroke="#e0474c" stroke-width="1.2"/>
<circle cx="467.95" cy="409.4" r="1.85" fill="#f0a4a4" stroke="#e0474c" stroke-width="1.2"/>
<circle cx="477.62" cy="409.4" r="1.85" fill="#f0a4a4" stroke="#e0474c" stroke-width="1.2"/>
<circle cx="487.3" cy="409.4" r="1.85" fill="#f0a4a4" stroke="#e0474c" stroke-width="1.2"/>
<circle cx="496.98" cy="409.4" r="1.85" fill="#f0a4a4" stroke="#e0474c" stroke-width="1.2"/>
<circle cx="506.65" cy="409.4" r="1.85" fill="#f0a4a4" stroke="#e0474c" stroke-width="1.2"/>
<circle cx="516.33" cy="409.4" r="1.85" fill="#f0a4a4" stroke="#e0474c" stroke-width="1.2"/>
<circle cx="332.5" cy="383.6" r="1.85" fill="#fbe2e2" stroke="#e0474c" stroke-width="1.2"/>
<circle cx="342.18" cy="388.78" r="1.85" fill="#fbe2e2" stroke="#e0474c" stroke-width="1.2"/>
<circle cx="351.85" cy="393.96" r="1.85" fill="#fbe2e2" stroke="#e0474c" stroke-width="1.2"/>
<circle cx="361.52" cy="399.14" r="1.85" fill="#fbe2e2" stroke="#e0474c" stroke-width="1.2"/>
<circle cx="371.2" cy="404.32" r="1.85" fill="#fbe2e2" stroke="#e0474c" stroke-width="1.2"/>
<circle cx="380.88" cy="409.5" r="1.85" fill="#fbe2e2" stroke="#e0474c" stroke-width="1.2"/>
<circle cx="390.55" cy="414.68" r="1.85" fill="#fbe2e2" stroke="#e0474c" stroke-width="1.2"/>
<circle cx="400.23" cy="419.86" r="1.85" fill="#fbe2e2" stroke="#e0474c" stroke-width="1.2"/>
<circle cx="409.9" cy="425.04" r="1.85" fill="#fbe2e2" stroke="#e0474c" stroke-width="1.2"/>
<circle cx="419.57" cy="430.22" r="1.85" fill="#fbe2e2" stroke="#e0474c" stroke-width="1.2"/>
<circle cx="429.25" cy="435.4" r="1.85" fill="#fbe2e2" stroke="#e0474c" stroke-width="1.2"/>
<circle cx="438.93" cy="430.22" r="1.85" fill="#fbe2e2" stroke="#e0474c" stroke-width="1.2"/>
<circle cx="448.6" cy="425.04" r="1.85" fill="#fbe2e2" stroke="#e0474c" stroke-width="1.2"/>
<circle cx="458.27" cy="419.86" r="1.85" fill="#fbe2e2" stroke="#e0474c" stroke-width="1.2"/>
<circle cx="467.95" cy="414.68" r="1.85" fill="#fbe2e2" stroke="#e0474c" stroke-width="1.2"/>
<circle cx="477.62" cy="409.5" r="1.85" fill="#fbe2e2" stroke="#e0474c" stroke-width="1.2"/>
<circle cx="487.3" cy="404.32" r="1.85" fill="#fbe2e2" stroke="#e0474c" stroke-width="1.2"/>
<circle cx="496.98" cy="399.14" r="1.85" fill="#fbe2e2" stroke="#e0474c" stroke-width="1.2"/>
<circle cx="506.65" cy="393.96" r="1.85" fill="#fbe2e2" stroke="#e0474c" stroke-width="1.2"/>
<circle cx="516.33" cy="388.78" r="1.85" fill="#fbe2e2" stroke="#e0474c" stroke-width="1.2"/>
<rect x="331.15" y="346.95" width="2.7" height="2.7" fill="#9cb0d8" stroke="#34548f" stroke-width="1.05"/>
<rect x="340.82" y="342.75" width="2.7" height="2.7" fill="#9cb0d8" stroke="#34548f" stroke-width="1.05"/>
<rect x="350.5" y="357.05" width="2.7" height="2.7" fill="#9cb0d8" stroke="#34548f" stroke-width="1.05"/>
<rect x="360.17" y="376.65" width="2.7" height="2.7" fill="#9cb0d8" stroke="#34548f" stroke-width="1.05"/>
<rect x="369.85" y="397.45" width="2.7" height="2.7" fill="#9cb0d8" stroke="#34548f" stroke-width="1.05"/>
<rect x="379.52" y="418.35" width="2.7" height="2.7" fill="#9cb0d8" stroke="#34548f" stroke-width="1.05"/>
<rect x="389.2" y="437.45" width="2.7" height="2.7" fill="#9cb0d8" stroke="#34548f" stroke-width="1.05"/>
<rect x="398.88" y="454.15" width="2.7" height="2.7" fill="#9cb0d8" stroke="#34548f" stroke-width="1.05"/>
<rect x="408.55" y="468.55" width="2.7" height="2.7" fill="#9cb0d8" stroke="#34548f" stroke-width="1.05"/>
<rect x="418.22" y="481.95" width="2.7" height="2.7" fill="#9cb0d8" stroke="#34548f" stroke-width="1.05"/>
<rect x="427.9" y="481.95" width="2.7" height="2.7" fill="#9cb0d8" stroke="#34548f" stroke-width="1.05"/>
<rect x="437.57" y="468.55" width="2.7" height="2.7" fill="#9cb0d8" stroke="#34548f" stroke-width="1.05"/>
<rect x="447.25" y="454.35" width="2.7" height="2.7" fill="#9cb0d8" stroke="#34548f" stroke-width="1.05"/>
<rect x="456.92" y="437.75" width="2.7" height="2.7" fill="#9cb0d8" stroke="#34548f" stroke-width="1.05"/>
<rect x="466.6" y="418.15" width="2.7" height="2.7" fill="#9cb0d8" stroke="#34548f" stroke-width="1.05"/>
<rect x="476.27" y="397.15" width="2.7" height="2.7" fill="#9cb0d8" stroke="#34548f" stroke-width="1.05"/>
<rect x="485.95" y="376.65" width="2.7" height="2.7" fill="#9cb0d8" stroke="#34548f" stroke-width="1.05"/>
<rect x="495.62" y="357.25" width="2.7" height="2.7" fill="#9cb0d8" stroke="#34548f" stroke-width="1.05"/>
<rect x="505.3" y="342.95" width="2.7" height="2.7" fill="#9cb0d8" stroke="#34548f" stroke-width="1.05"/>
<rect x="514.98" y="346.85" width="2.7" height="2.7" fill="#9cb0d8" stroke="#34548f" stroke-width="1.05"/>
<rect x="331.15" y="358.05" width="2.7" height="2.7" fill="#d5def0" stroke="#34548f" stroke-width="1.05"/>
<rect x="340.82" y="355.65" width="2.7" height="2.7" fill="#d5def0" stroke="#34548f" stroke-width="1.05"/>
<rect x="350.5" y="366.65" width="2.7" height="2.7" fill="#d5def0" stroke="#34548f" stroke-width="1.05"/>
<rect x="360.17" y="381.85" width="2.7" height="2.7" fill="#d5def0" stroke="#34548f" stroke-width="1.05"/>
<rect x="369.85" y="402.25" width="2.7" height="2.7" fill="#d5def0" stroke="#34548f" stroke-width="1.05"/>
<rect x="379.52" y="412.15" width="2.7" height="2.7" fill="#d5def0" stroke="#34548f" stroke-width="1.05"/>
<rect x="389.2" y="427.15" width="2.7" height="2.7" fill="#d5def0" stroke="#34548f" stroke-width="1.05"/>
<rect x="398.88" y="440.35" width="2.7" height="2.7" fill="#d5def0" stroke="#34548f" stroke-width="1.05"/>
<rect x="408.55" y="451.25" width="2.7" height="2.7" fill="#d5def0" stroke="#34548f" stroke-width="1.05"/>
<rect x="418.22" y="462.15" width="2.7" height="2.7" fill="#d5def0" stroke="#34548f" stroke-width="1.05"/>
<rect x="427.9" y="468.15" width="2.7" height="2.7" fill="#d5def0" stroke="#34548f" stroke-width="1.05"/>
<rect x="437.57" y="457.15" width="2.7" height="2.7" fill="#d5def0" stroke="#34548f" stroke-width="1.05"/>
<rect x="447.25" y="445.25" width="2.7" height="2.7" fill="#d5def0" stroke="#34548f" stroke-width="1.05"/>
<rect x="456.92" y="432.85" width="2.7" height="2.7" fill="#d5def0" stroke="#34548f" stroke-width="1.05"/>
<rect x="466.6" y="417.65" width="2.7" height="2.7" fill="#d5def0" stroke="#34548f" stroke-width="1.05"/>
<rect x="476.27" y="402.15" width="2.7" height="2.7" fill="#d5def0" stroke="#34548f" stroke-width="1.05"/>
<rect x="485.95" y="386.95" width="2.7" height="2.7" fill="#d5def0" stroke="#34548f" stroke-width="1.05"/>
<rect x="495.62" y="372.35" width="2.7" height="2.7" fill="#d5def0" stroke="#34548f" stroke-width="1.05"/>
<rect x="505.3" y="361.15" width="2.7" height="2.7" fill="#d5def0" stroke="#34548f" stroke-width="1.05"/>
<rect x="514.98" y="362.85" width="2.7" height="2.7" fill="#d5def0" stroke="#34548f" stroke-width="1.05"/>
<rect x="205" y="303.8" width="84.8" height="57.6" fill="#fff" stroke="#6a6560" stroke-width="1"/>
<line x1="210" y1="312.3" x2="247.5" y2="312.3" stroke="#e0474c" stroke-width="1" />
<circle cx="228.7" cy="312.3" r="1.85" fill="#f0a4a4" stroke="#e0474c" stroke-width="1.2"/>
<text x="250.6" y="315.9" font-family="'Liberation Serif', serif" font-size="10.3" fill="#1a1a1a">CAB, <tspan font-style="italic">q</tspan><tspan font-size="5.8" font-style="italic" dy="2.6">2</tspan></text>
<line x1="210" y1="324.4" x2="247.5" y2="324.4" stroke="#3b5ca6" stroke-width="1" />
<rect x="227.35" y="323.05" width="2.7" height="2.7" fill="#9cb0d8" stroke="#34548f" stroke-width="1.05"/>
<text x="250.6" y="328" font-family="'Liberation Serif', serif" font-size="10.3" fill="#1a1a1a">DAB, <tspan font-style="italic">q</tspan><tspan font-size="5.8" font-style="italic" dy="2.6">2</tspan></text>
<line x1="210" y1="338.4" x2="247.5" y2="338.4" stroke="#e0474c" stroke-width="1" stroke-dasharray="3.3,4.2" stroke-dashoffset="-1"/>
<circle cx="228.7" cy="338.4" r="1.85" fill="#fbe2e2" stroke="#e0474c" stroke-width="1.2"/>
<text x="250.6" y="342" font-family="'Liberation Serif', serif" font-size="10.3" fill="#1a1a1a">CAB, <tspan font-style="italic">q</tspan><tspan font-size="5.8" font-style="italic" dy="2.6">3</tspan></text>
<line x1="210" y1="350.3" x2="247.5" y2="350.3" stroke="#3b5ca6" stroke-width="1" stroke-dasharray="3.3,4.2" stroke-dashoffset="-1"/>
<rect x="227.35" y="348.95" width="2.7" height="2.7" fill="#d5def0" stroke="#34548f" stroke-width="1.05"/>
<text x="250.6" y="353.9" font-family="'Liberation Serif', serif" font-size="10.3" fill="#1a1a1a">DAB, <tspan font-style="italic">q</tspan><tspan font-size="5.8" font-style="italic" dy="2.6">3</tspan></text>
</svg>
</body></html>
